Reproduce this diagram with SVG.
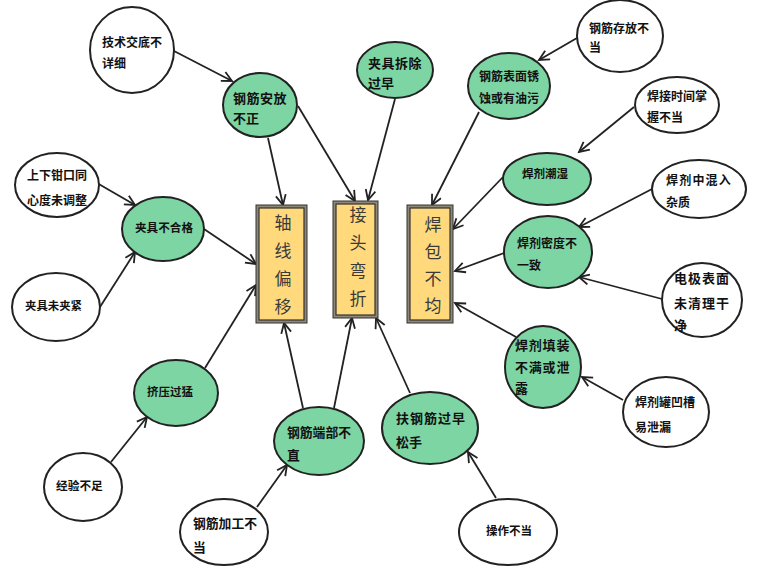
<svg xmlns="http://www.w3.org/2000/svg" width="760" height="570" viewBox="0 0 760 570">
<style>
.g{fill:#7DD5A3;stroke:#222;stroke-width:2}
.w{fill:#fff;stroke:#222;stroke-width:2}
.t{font-family:"Noto Sans CJK SC","Noto Sans CJK JP",sans-serif;font-size:12px;fill:#111;font-weight:600}
.big{font-family:"Noto Sans CJK SC","Noto Sans CJK JP",serif;font-size:17px;fill:#3a3a3a;text-anchor:middle}
.ob{fill:#8f8878;stroke:#333;stroke-width:1}
.ib{fill:#FFD97C;stroke:#333;stroke-width:1.2}
.c line{stroke:#222;stroke-width:1.8;marker-end:url(#a)}
</style>
<defs>
<marker id="a" markerUnits="userSpaceOnUse" markerWidth="14" markerHeight="14" refX="11" refY="6" orient="auto">
<path d="M1,1 L11,6 L1,11" fill="none" stroke="#222" stroke-width="1.8"/>
</marker>
</defs>
<rect width="760" height="570" fill="#fff"/>
<g class="c">
<line x1="174" y1="51" x2="232" y2="81"/>
<line x1="268" y1="138" x2="283" y2="205"/>
<line x1="298" y1="106" x2="355" y2="201"/>
<line x1="395" y1="99" x2="368" y2="200"/>
<line x1="479" y1="112" x2="432" y2="205"/>
<line x1="577" y1="38" x2="539" y2="60"/>
<line x1="634" y1="107" x2="579" y2="152"/>
<line x1="503" y1="177" x2="453" y2="229"/>
<line x1="652" y1="189" x2="579" y2="227"/>
<line x1="504" y1="253" x2="455" y2="271"/>
<line x1="662" y1="299" x2="579" y2="277"/>
<line x1="516" y1="337" x2="455" y2="303"/>
<line x1="623" y1="400" x2="582" y2="377"/>
<line x1="410" y1="393" x2="376" y2="318"/>
<line x1="496" y1="498" x2="468" y2="452"/>
<line x1="303" y1="408" x2="284" y2="323"/>
<line x1="334" y1="408" x2="352" y2="318"/>
<line x1="257" y1="507" x2="287" y2="465"/>
<line x1="205" y1="368" x2="256" y2="285"/>
<line x1="111" y1="462" x2="147" y2="417"/>
<line x1="100" y1="307" x2="135" y2="252"/>
<line x1="97" y1="183" x2="135" y2="205"/>
<line x1="204" y1="229" x2="256" y2="264"/>
</g>
<g id="r1">
<rect class="ob" x="256" y="205" width="51" height="118"/>
<rect class="ib" x="259" y="208" width="45" height="112"/>
<text class="big" x="283" y="229">轴</text><text class="big" x="283" y="257">线</text><text class="big" x="283" y="285">偏</text><text class="big" x="283" y="313">移</text>
</g>
<g id="r2">
<rect class="ob" x="333" y="201" width="45" height="117"/>
<rect class="ib" x="336" y="204" width="39" height="111"/>
<text class="big" x="358" y="221">接</text><text class="big" x="358" y="249">头</text><text class="big" x="358" y="277">弯</text><text class="big" x="358" y="305">折</text>
</g>
<g id="r3">
<rect class="ob" x="407" y="205" width="46" height="118"/>
<rect class="ib" x="410" y="208" width="40" height="112"/>
<text class="big" x="433" y="231">焊</text><text class="big" x="433" y="258">包</text><text class="big" x="433" y="285">不</text><text class="big" x="433" y="312">均</text>
</g>
<g id="n1"><ellipse class="w" cx="132" cy="50" rx="42" ry="43"/><text class="t" x="102" y="47">技术交底不</text><text class="t" x="102" y="68">详细</text></g>
<g id="n2"><ellipse class="g" cx="260" cy="105" rx="37" ry="32"/><text class="t" x="233" y="103" style="font-size:13px;letter-spacing:0.5px">钢筋安放</text><text class="t" x="233" y="123" style="font-size:13px">不正</text></g>
<g id="n3"><ellipse class="g" cx="395" cy="70" rx="38" ry="28"/><text class="t" x="368" y="68" style="font-size:13px;letter-spacing:0.5px">夹具拆除</text><text class="t" x="368" y="88" style="font-size:13px">过早</text></g>
<g id="n4"><ellipse class="g" cx="509" cy="86" rx="41" ry="33"/><text class="t" x="479" y="81">钢筋表面锈</text><text class="t" x="479" y="103">蚀或有油污</text></g>
<g id="n5"><ellipse class="w" cx="620" cy="36" rx="43" ry="36"/><text class="t" x="589" y="33">钢筋存放不</text><text class="t" x="589" y="52">当</text></g>
<g id="n6"><ellipse class="w" cx="677" cy="105" rx="42" ry="28"/><text class="t" x="647" y="101">焊接时间掌</text><text class="t" x="647" y="122">握不当</text></g>
<g id="n7"><ellipse class="g" cx="547" cy="179" rx="44" ry="26"/><text class="t" x="522" y="178" style="font-size:11.5px">焊剂潮湿</text></g>
<g id="n8"><ellipse class="w" cx="699" cy="189" rx="47" ry="29"/><text class="t" x="666" y="185" style="letter-spacing:1.2px">焊剂中混入</text><text class="t" x="666" y="207">杂质</text></g>
<g id="n9"><ellipse class="g" cx="548" cy="252" rx="44" ry="36"/><text class="t" x="517" y="248">焊剂密度不</text><text class="t" x="517" y="270">一致</text></g>
<g id="n10"><ellipse class="w" cx="702" cy="300" rx="40" ry="37"/><text class="t" x="674" y="283" style="font-size:13px;letter-spacing:1px">电极表面</text><text class="t" x="674" y="308" style="font-size:13px;letter-spacing:1px">未清理干</text><text class="t" x="674" y="330" style="font-size:13px">净</text></g>
<g id="n11"><ellipse class="g" cx="543" cy="367" rx="38" ry="41"/><text class="t" x="515" y="350" style="font-size:13px;letter-spacing:0.8px">焊剂填装</text><text class="t" x="515" y="372" style="font-size:13px;letter-spacing:0.8px">不满或泄</text><text class="t" x="515" y="393" style="font-size:13px">露</text></g>
<g id="n12"><ellipse class="w" cx="666" cy="412" rx="43" ry="35"/><text class="t" x="635" y="407">焊剂罐凹槽</text><text class="t" x="635" y="432">易泄漏</text></g>
<g id="n13"><ellipse class="g" cx="430" cy="428" rx="48" ry="36"/><text class="t" x="396" y="423" style="font-size:13px;letter-spacing:1px">扶钢筋过早</text><text class="t" x="396" y="447" style="font-size:13px">松手</text></g>
<g id="n14"><ellipse class="w" cx="508" cy="532" rx="49" ry="33"/><text class="t" x="486" y="535" style="font-size:11.5px">操作不当</text></g>
<g id="n15"><ellipse class="g" cx="319" cy="441" rx="45" ry="34"/><text class="t" x="287" y="437" style="font-size:12.8px">钢筋端部不</text><text class="t" x="287" y="460" style="font-size:12.8px">直</text></g>
<g id="n16"><ellipse class="w" cx="224" cy="532" rx="44" ry="33"/><text class="t" x="193" y="528" style="font-size:12.8px">钢筋加工不</text><text class="t" x="193" y="552" style="font-size:12.8px">当</text></g>
<g id="n17"><ellipse class="g" cx="176" cy="393" rx="42" ry="33"/><text class="t" x="147" y="396" style="font-size:11.5px">挤压过猛</text></g>
<g id="n18"><ellipse class="w" cx="83" cy="487" rx="39" ry="34"/><text class="t" x="56" y="490" style="font-size:11.7px">经验不足</text></g>
<g id="n19"><ellipse class="w" cx="56" cy="307" rx="44" ry="34"/><text class="t" x="25" y="310" style="font-size:11.4px">夹具未夹紧</text></g>
<g id="n20"><ellipse class="w" cx="57" cy="185" rx="42" ry="32"/><text class="t" x="27" y="180">上下钳口同</text><text class="t" x="27" y="205">心度未调整</text></g>
<g id="n21"><ellipse class="g" cx="163" cy="229" rx="41" ry="32"/><text class="t" x="135" y="232" style="font-size:11.6px">夹具不合格</text></g>
</svg>
